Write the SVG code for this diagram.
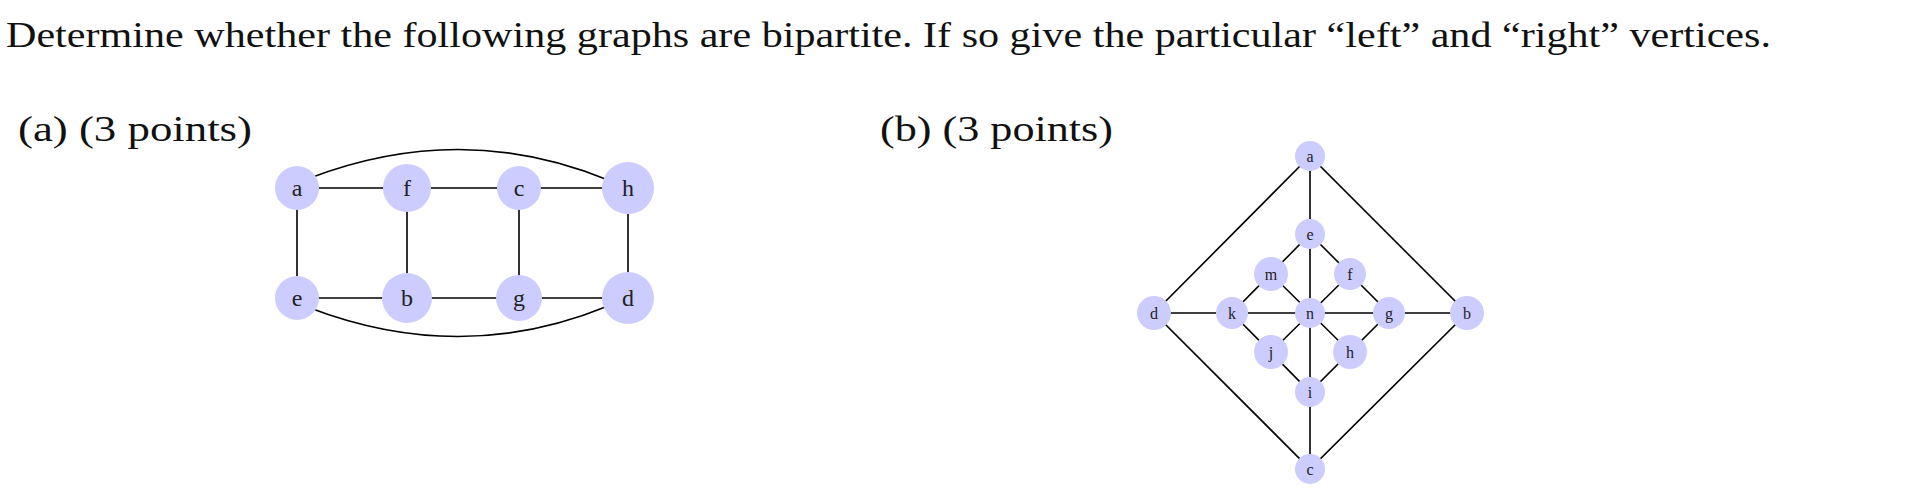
<svg xmlns="http://www.w3.org/2000/svg" width="1924" height="504" viewBox="0 0 1924 504">
<style>
.t{font-family:"Liberation Serif",serif;font-size:36px;fill:#111}
.n{fill:#ccccff}
.la{font-family:"Liberation Serif",serif;font-size:24px;fill:#222;text-anchor:middle;dominant-baseline:central}
.lb{font-family:"Liberation Serif",serif;font-size:16px;fill:#222;text-anchor:middle;dominant-baseline:central}
.e{stroke:#000;stroke-width:1.6;fill:none}
</style>
<rect width="1924" height="504" fill="#fff"/>
<text class="t" x="6" y="47" textLength="1765" lengthAdjust="spacingAndGlyphs">Determine whether the following graphs are bipartite. If so give the particular “left” and “right” vertices.</text>
<text class="t" x="18" y="141" textLength="234" lengthAdjust="spacingAndGlyphs">(a)  (3 points)</text>
<text class="t" x="880" y="141" textLength="233" lengthAdjust="spacingAndGlyphs">(b)  (3 points)</text>
<g id="edges">
<path class="e" d="M297 188H628M297 298H628M297 188V298M407 188V298M519 188V298M628 188V298"/>
<path class="e" d="M310 178Q462 120 608 180M310 308Q462 366 608 306"/>
<path class="e" d="M1310 156V469M1310 156L1154 313L1310 469L1467 313ZM1154 313H1467M1310 234L1389 313L1310 392L1232 313Z"/>
<path class="e" d="M1271 274L1350 352M1350 274L1271 352"/>
</g>
<g id="ga-a"><circle class="n" cx="297" cy="188" r="22"/><text class="la" x="297" y="188">a</text></g>
<g id="ga-f"><circle class="n" cx="407" cy="188" r="24"/><text class="la" x="407" y="188">f</text></g>
<g id="ga-c"><circle class="n" cx="519" cy="188" r="22"/><text class="la" x="519" y="188">c</text></g>
<g id="ga-h"><circle class="n" cx="628" cy="188" r="26"/><text class="la" x="628" y="188">h</text></g>
<g id="ga-e"><circle class="n" cx="297" cy="298" r="22"/><text class="la" x="297" y="298">e</text></g>
<g id="ga-b"><circle class="n" cx="407" cy="298" r="25"/><text class="la" x="407" y="298">b</text></g>
<g id="ga-g"><circle class="n" cx="519" cy="298" r="23"/><text class="la" x="519" y="298">g</text></g>
<g id="ga-d"><circle class="n" cx="628" cy="298" r="26"/><text class="la" x="628" y="298">d</text></g>
<g id="gb-a"><circle class="n" cx="1310" cy="156" r="15"/><text class="lb" x="1310" y="156">a</text></g>
<g id="gb-e"><circle class="n" cx="1310" cy="234" r="15"/><text class="lb" x="1310" y="234">e</text></g>
<g id="gb-m"><circle class="n" cx="1271" cy="274" r="17"/><text class="lb" x="1271" y="274">m</text></g>
<g id="gb-f"><circle class="n" cx="1350" cy="274" r="16"/><text class="lb" x="1350" y="274">f</text></g>
<g id="gb-d"><circle class="n" cx="1154" cy="313" r="17"/><text class="lb" x="1154" y="313">d</text></g>
<g id="gb-k"><circle class="n" cx="1232" cy="313" r="16"/><text class="lb" x="1232" y="313">k</text></g>
<g id="gb-n"><circle class="n" cx="1310" cy="313" r="15"/><text class="lb" x="1310" y="313">n</text></g>
<g id="gb-g"><circle class="n" cx="1389" cy="313" r="16"/><text class="lb" x="1389" y="313">g</text></g>
<g id="gb-b"><circle class="n" cx="1467" cy="313" r="17"/><text class="lb" x="1467" y="313">b</text></g>
<g id="gb-j"><circle class="n" cx="1271" cy="352" r="17"/><text class="lb" x="1271" y="352">j</text></g>
<g id="gb-h"><circle class="n" cx="1350" cy="352" r="17"/><text class="lb" x="1350" y="352">h</text></g>
<g id="gb-i"><circle class="n" cx="1310" cy="392" r="15"/><text class="lb" x="1310" y="392">i</text></g>
<g id="gb-c"><circle class="n" cx="1310" cy="469" r="15"/><text class="lb" x="1310" y="469">c</text></g>
</svg>
